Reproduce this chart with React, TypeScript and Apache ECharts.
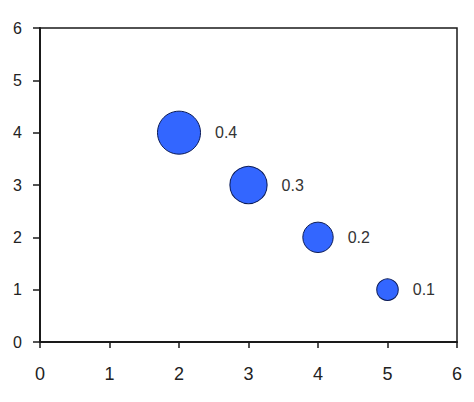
import { useEffect, useRef } from "react";
import * as echarts from "echarts";

// bubble positions and sizes
const xValues = [2, 3, 4, 5];
const yValues = [4, 3, 2, 1];
const sizes = [0.4, 0.3, 0.2, 0.1];

const FONT = "'Liberation Sans', Arial, sans-serif";

export default function App() {
  const ref = useRef<HTMLDivElement>(null);

  useEffect(() => {
    if (!ref.current) return;
    document.body.style.margin = "0";

    const points = xValues.map((x, i) => [x, yValues[i], sizes[i]]);

    const chart = echarts.init(ref.current, undefined, { renderer: "svg" });
    chart.setOption({
      animation: false,
      backgroundColor: "#ffffff",
      grid: {
        left: 40, right: 17, top: 28, bottom: 60,
        show: true, borderColor: "#1a1a1a", borderWidth: 1.5,
      },
      xAxis: {
        type: "value", min: 0, max: 6, interval: 1,
        axisLine: { show: true, onZero: false, lineStyle: { color: "#1a1a1a", width: 2 } },
        axisTick: { show: true, length: 6, lineStyle: { color: "#1a1a1a", width: 1.5 } },
        axisLabel: { margin: 23, fontSize: 18, color: "#222", fontFamily: FONT },
        splitLine: { show: false },
      },
      yAxis: {
        type: "value", min: 0, max: 6, interval: 1,
        axisLine: { show: true, onZero: false, lineStyle: { color: "#1a1a1a", width: 2 } },
        axisTick: { show: true, length: 7, lineStyle: { color: "#1a1a1a", width: 1.5 } },
        axisLabel: { margin: 18, fontSize: 16, color: "#222", fontFamily: FONT },
        splitLine: { show: false },
      },
      series: [
        {
          type: "scatter",
          data: points,
          symbolSize: (v: number[]) => 68 * Math.sqrt(v[2]),
          itemStyle: { color: "#3366ff", borderColor: "#0a1a55", borderWidth: 1, opacity: 1 },
          label: {
            show: true,
            position: "right",
            distance: 14,
            formatter: (p: any) => String(p.value[2]),
            fontSize: 16,
            color: "#333",
            fontFamily: FONT,
          },
        },
      ],
    });

    return () => chart.dispose();
  }, []);

  return <div ref={ref} style={{ width: 474, height: 402 }} />;
}
